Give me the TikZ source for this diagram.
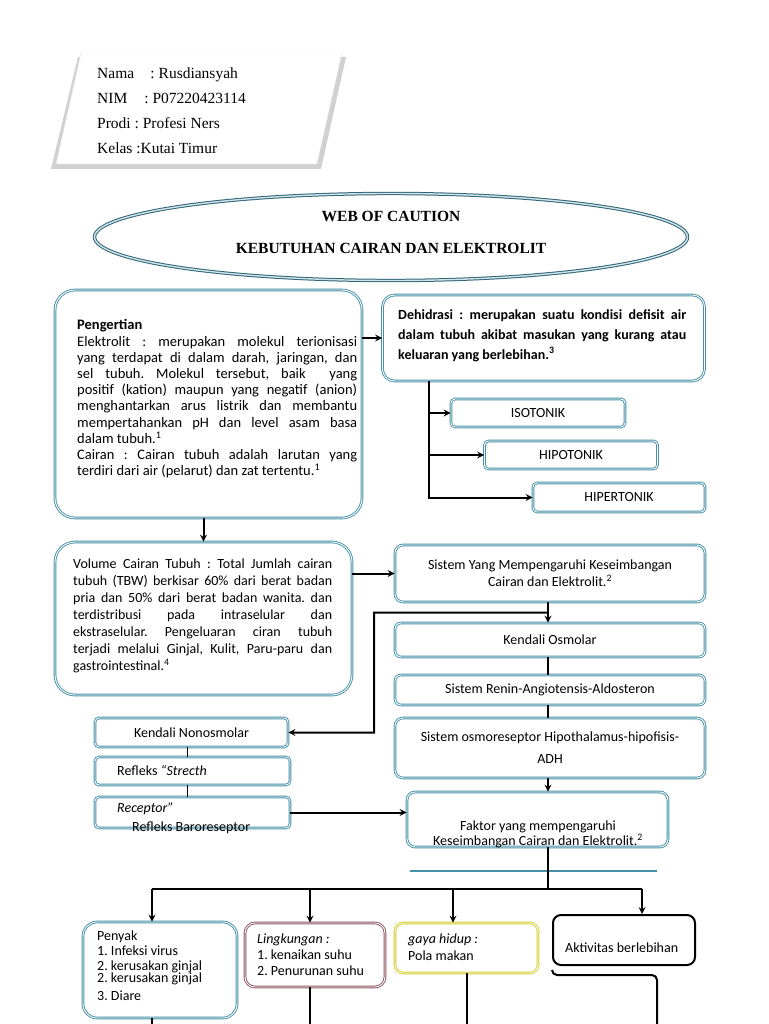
\documentclass[tikz,border=0pt]{standalone}
\usepackage{fontspec}
\setmainfont{Carlito}
\newfontfamily\timesfont{Liberation Serif}
\usetikzlibrary{positioning,calc,shapes.geometric}
\frenchspacing

\definecolor{tepiteal}{RGB}{70,145,168}
\definecolor{tepirose}{RGB}{140,85,95}
\definecolor{tepikuning}{RGB}{212,205,40}

\tikzset{
  kotak/.style={draw=tepiteal, double=white, double distance=0.9pt, line width=0.9pt, fill=white, rounded corners=#1, inner sep=0pt},
  kotak/.default=5pt,
  isi/.style={font=\fontsize{14}{17}\selectfont, inner sep=0pt},
  panah/.style={-stealth, line width=2pt},
  garis/.style={line width=2pt},
}

\begin{document}
\begin{tikzpicture}[x=1pt,y=-1pt]
		\useasboundingbox (0,0) rectangle (768,1024);
		
		% kartu biodata
		\fill[black!18] (78,57) -- (346,57) -- (321,169) -- (51,169) -- cycle;
		\filldraw[fill=white, draw=black!12] (81,53) -- (342,53) -- (317,164) -- (56,164) -- cycle;
		\node[anchor=north west, align=left, inner sep=0pt, font=\timesfont\fontsize{15.5}{25}\selectfont] (biodata) at (97,68) {Nama\hspace{1.05em}: Rusdiansyah\\NIM\hspace{1.1em}: P07220423114\\Prodi : Profesi Ners\\Kelas :Kutai Timur};
		
		% judul
		\node[ellipse, draw=tepiteal!70!black, double=tepiteal!25, double distance=1.4pt, line width=1pt, minimum width=593pt, minimum height=87pt] (judul) at (391,237) {};
		\node[align=center, font=\timesfont\bfseries\fontsize{15.5}{32}\selectfont] (judulteks) at (391,232) {WEB OF CAUTION\\KEBUTUHAN CAIRAN DAN ELEKTROLIT};
		
		% pengertian dan dehidrasi
		\node[kotak=20pt, minimum width=307pt, minimum height=228pt] (pengertian) at (208.5,404) {};
		\node[isi, anchor=north west, text width=280pt, align=justify, font=\fontsize{14.5}{16.2}\selectfont] (pengertianteks) at (77,319.5) {\textbf{Pengertian}\\Elektrolit : merupakan molekul terionisasi\linebreak yang terdapat di dalam darah, jaringan, dan\linebreak sel tubuh. Molekul tersebut, baik\ \ yang\linebreak positif (kation) maupun yang negatif (anion)\linebreak menghantarkan arus listrik dan membantu\linebreak mempertahankan pH dan level asam basa\linebreak dalam tubuh.\textsuperscript{1}\\Cairan : Cairan tubuh adalah larutan yang\linebreak terdiri dari air (pelarut) dan zat tertentu.\textsuperscript{1}};
		
		\node[kotak=12pt, minimum width=322pt, minimum height=86pt] (dehidrasi) at (543.5,338) {};
		\node[isi, anchor=north west, text width=288pt, align=justify, font=\bfseries\fontsize{14}{20}\selectfont] (dehidrasiteks) at (398,309) {Dehidrasi : merupakan suatu kondisi defisit air\linebreak dalam tubuh akibat masukan yang kurang atau\linebreak keluaran yang berlebihan.\textsuperscript{3}};
		
		\node[kotak=4pt, isi, minimum width=174pt, minimum height=28pt] (iso) at (538,413) {ISOTONIK};
		\node[kotak=4pt, isi, minimum width=173pt, minimum height=28pt] (hipo) at (571,455) {HIPOTONIK};
		\node[kotak=4pt, isi, minimum width=172pt, minimum height=29pt] (hiper) at (619,497.5) {HIPERTONIK};
		
		\draw[panah] (pengertian.east |- dehidrasi.west) -- (dehidrasi.west);
		\coordinate (cabangdehidrasi) at ([xshift=47pt]dehidrasi.south west);
		\draw[panah] (cabangdehidrasi) |- (hiper.west);
		\draw[panah] (cabangdehidrasi |- iso) -- (iso.west);
		\draw[panah] (cabangdehidrasi |- hipo) -- (hipo.west);
		
		% volume cairan
		\node[kotak=20pt, minimum width=297pt, minimum height=153pt] (volume) at (203.5,618.5) {};
		\node[isi, anchor=north west, text width=259pt, align=justify] (volumeteks) at (73,559) {Volume Cairan Tubuh : Total Jumlah cairan\linebreak tubuh (TBW) berkisar 60\% dari berat badan\linebreak pria dan 50\% dari berat badan wanita. dan\linebreak terdistribusi pada intraselular dan\linebreak ekstraselular. Pengeluaran ciran tubuh\linebreak terjadi melalui Ginjal, Kulit, Paru-paru dan\linebreak gastrointestinal.\textsuperscript{4}};
		\draw[panah] (pengertian.south -| volume.north) -- (volume.north);
		
		% sistem keseimbangan
		\node[kotak=8pt, isi, minimum width=310pt, minimum height=57pt, align=center] (sistem) at (550,573.5) {Sistem Yang Mempengaruhi Keseimbangan\\Cairan dan Elektrolit.\textsuperscript{2}};
		\node[kotak=6pt, isi, minimum width=310pt, minimum height=34pt] (osmolar) at (550,640) {Kendali Osmolar};
		\node[kotak=6pt, isi, minimum width=310pt, minimum height=30pt] (renin) at (550,690) {Sistem Renin-Angiotensis-Aldosteron};
		\node[kotak=8pt, isi, minimum width=310pt, minimum height=60pt, align=center, font=\fontsize{14}{22}\selectfont] (osmoreseptor) at (550,748) {Sistem osmoreseptor Hipothalamus-hipofisis-\\ADH};
		\node[kotak=8pt, minimum width=261pt, minimum height=55pt] (faktor) at (537.5,819.5) {};
		\node[isi, align=center, font=\fontsize{14}{15}\selectfont] (faktorteks) at (538,834.5) {Faktor yang mempengaruhi\\Keseimbangan Cairan dan Elektrolit.\textsuperscript{2}};
		
		\draw[panah] (volume.east |- sistem.west) -- (sistem.west);
		\coordinate (batang) at ([xshift=-2pt]sistem.south);
		\draw[panah] (batang) -- (batang |- osmolar.north);
		\draw[garis] (batang |- osmolar.south) -- (batang |- renin.north);
		\draw[garis] (batang |- renin.south) -- (batang |- osmoreseptor.north);
		\draw[panah] (batang |- osmoreseptor.south) -- (batang |- faktor.north);
		
		% kendali nonosmolar
		\node[kotak=4pt, isi, minimum width=193pt, minimum height=29pt] (nonosmolar) at (191.5,732.5) {Kendali Nonosmolar};
		\node[kotak=4pt, minimum width=195pt, minimum height=28pt] (strecth) at (192.5,771) {};
		\node[kotak=4pt, minimum width=195pt, minimum height=31pt] (receptor) at (192.5,812.5) {};
		\node[isi, anchor=west] (strecthteks) at (117,771) {Refleks \textit{“Strecth}};
		\node[isi, anchor=west] (receptorteks) at (117,809) {\textit{Receptor”}};
		\node[isi, anchor=west] (baroteks) at (132,828) {Refleks Baroreseptor};
		
		\coordinate (simpang) at ($(sistem.south)!0.5!(osmolar.north)$);
		\coordinate (belok) at (374,612.5);
		\draw[panah] (batang |- simpang) -- (belok) |- (nonosmolar.east);
		\coordinate (refleks) at ([xshift=-4pt]nonosmolar.south);
		\draw[garis, line width=1.5pt] (refleks) -- (refleks |- strecth.north);
		\draw[garis, line width=1.5pt] (refleks |- strecth.south) -- (refleks |- receptor.north);
		\draw[panah] (receptor.east) -- (receptor.east -| faktor.west);
		
		% faktor-faktor
		\draw[tepiteal, line width=1.5pt] (410,871) -- (657,871);
		\coordinate (rel) at (548,889);
		\coordinate (c1) at (152,889);
		\coordinate (c2) at (310,889);
		\coordinate (c3) at (453,889);
		\coordinate (c4) at (642,889);
		\coordinate (bawah) at (0,1024);
		\draw[garis] (batang |- faktor.south) -- (rel);
		\draw[garis] (c1) -- (c4);
		
		\node[kotak=14pt, minimum width=154pt, minimum height=96pt] (penyakit) at (160,970) {};
		\node[kotak=10pt, draw=tepirose, minimum width=140pt, minimum height=64pt] (lingkungan) at (315,955) {};
		\node[kotak=8pt, draw=tepikuning, minimum width=143pt, minimum height=50pt] (gaya) at (466.5,948) {};
		\node[draw=black, line width=2pt, fill=white, rounded corners=8pt, minimum width=142pt, minimum height=50pt] (aktivitas) at (624,940) {};
		
		\node[isi, anchor=north west, align=left, font=\fontsize{14}{15}\selectfont] (penyakitteks) at (97,931) {Penyak\\1. Infeksi virus\\2. kerusakan ginjal\\[-3pt]2. kerusakan ginjal\\[3pt]3. Diare};
		\node[isi, anchor=north west, align=left, font=\fontsize{14}{16}\selectfont] (lingkunganteks) at (257,934) {\textit{Lingkungan :}\\1. kenaikan suhu\\2. Penurunan suhu};
		\node[isi, anchor=north west, align=left] (gayateks) at (408,934) {\textit{gaya hidup :}\\Pola makan};
		\node[isi, anchor=west] (aktivitasteks) at (565,948) {Aktivitas berlebihan};
		
		\foreach \c/\n in {c1/penyakit,c2/lingkungan,c3/gaya,c4/aktivitas}
			\draw[panah] (\c) -- (\c |- \n.north);
		
		\draw[garis] (c1 |- penyakit.south) -- (c1 |- bawah);
		\draw[garis] (c2 |- lingkungan.south) -- (c2 |- bawah);
		\draw[garis] (gaya.south) -- (gaya.south |- bawah);
		\coordinate (kait) at (657,975);
		\draw[garis, rounded corners=5pt] ([yshift=-4pt]aktivitas.south west) |- (kait) -- (kait |- bawah);
	\end{tikzpicture}
\end{document}
